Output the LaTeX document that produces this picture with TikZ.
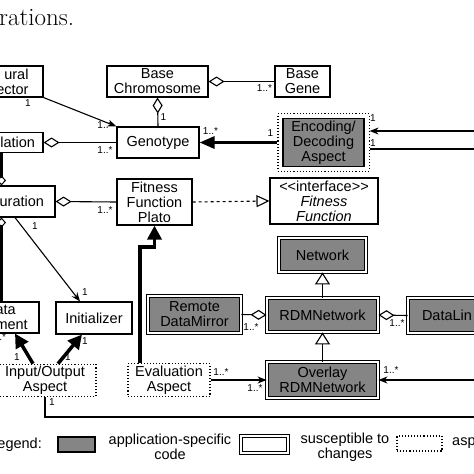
\documentclass[tikz,border=0pt]{standalone}
\usepackage{fontspec}
\newfontfamily\umlfont{Liberation Sans}
\usetikzlibrary{arrows.meta, fit}
\definecolor{appgray}{gray}{0.52}

\begin{document}
\begin{tikzpicture}[
        x=1pt, y=-1pt,
        cls/.style={draw, line width=1.1pt, fill=white, align=center, inner sep=2pt,
            font=\umlfont\fontsize{14.5}{15}\selectfont},
        appcls/.style={cls, fill=appgray},
        changecls/.style={appcls, double=white, double distance=1.6pt, line width=0.9pt},
        aspect/.style={draw, dotted, line width=1.1pt, align=center, inner sep=2pt,
            font=\umlfont\fontsize{14.5}{15}\selectfont},
        plain/.style={font=\umlfont\fontsize{14.5}{15}\selectfont, align=center, inner sep=0pt},
        mult/.style={font=\umlfont\fontsize{10}{10}\selectfont, inner sep=0pt},
        assoc/.style={line width=1.1pt},
        agg/.style={assoc, {Diamond[open, length=16pt, width=10pt]}-},
        nav/.style={assoc, -{Stealth[length=9pt, width=7pt]}},
        gen/.style={assoc, -{Triangle[open, length=12pt, width=15pt]}},
        fat/.style={line width=3.5pt, -{Triangle[length=14pt, width=14pt]}},
    ]
        \useasboundingbox (0,0) rectangle (474,474);

        % Caption tail
        \node[anchor=base west, inner sep=0pt, font=\fontsize{25}{26}\selectfont] (captail) at (-1,25) {rations.};

        % Classes on the left (cut by the frame)
        \node[cls, minimum width=103pt, minimum height=31pt, text width=74pt, align=right] (conn) at (-8.5,81.5) {ural\\ector};
        \node[cls, minimum width=103pt, minimum height=20pt, text width=87pt, align=right] (popn) at (-8.5,142.5) {lation};
        \node[cls, minimum width=115pt, minimum height=31pt, text width=93pt, align=right] (config) at (-2.5,201.5) {uration};
        \node[cls, minimum width=54pt, minimum height=31pt, text width=33pt, align=left] (dataelem) at (12,317.5) {ata\\ment};
        \node[cls, minimum width=76pt, minimum height=32pt] (init) at (94,318) {Initializer};

        % Genotype part
        \node[cls, minimum width=101pt, minimum height=31pt] (basechr) at (157.5,81.5) {Base\\Chromosome};
        \node[cls, minimum width=55pt, minimum height=31pt] (basegene) at (302.5,81.5) {Base\\Gene};
        \node[cls, minimum width=82pt, minimum height=31pt] (geno) at (158,142.5) {Genotype};
        \node[appcls, minimum width=81pt, minimum height=47pt] (encod) at (323.5,142.5) {Encoding/\\Decoding\\Aspect};
        \node[aspect, fit=(encod), inner sep=4.5pt] (encdot) {};

        % Fitness
        \node[cls, minimum width=75pt, minimum height=46pt] (plato) at (154.5,202) {Fitness\\Function\\Plato};
        \node[cls, minimum width=108pt, minimum height=46pt] (iface) at (324,201) {<<interface>>\\\itshape Fitness\\\itshape Function};

        % Network part
        \node[changecls, minimum width=87pt, minimum height=34pt] (network) at (322.5,255) {Network};
        \node[changecls, minimum width=111pt, minimum height=34pt] (rdmnet) at (322.5,315) {RDMNetwork};
        \node[changecls, minimum width=93pt, minimum height=37pt] (remote) at (194.5,314.5) {Remote\\DataMirror};
        \node[changecls, minimum width=112pt, minimum height=35pt, text width=84pt, align=left] (datalin) at (464,315.5) {DataLin};
        \node[changecls, minimum width=111pt, minimum height=36pt] (overlay) at (322.5,380) {Overlay\\RDMNetwork};

        % Aspects
        \node[aspect, minimum width=82pt, minimum height=32pt] (evalasp) at (169,380) {Evaluation\\Aspect};
        \node[aspect, minimum width=102pt, minimum height=31pt] (ioasp) at (45,380.5) {Input/Output\\Aspect};

        % Free ends at the frame
        \coordinate (rail) at (1.5,0);
        \coordinate (encin) at (480,131);
        \coordinate (encout) at (480,149);
        \coordinate (ovin) at (480,380);
        \coordinate (ioout) at (480,417);

        % Connectors
        \draw[agg] (basechr.east) -- (basegene.west);
        \draw[agg] (basechr.south) -- (geno.north);
        \draw[nav] (conn.south east) -- (geno.north west);
        \draw[agg] (popn.east) -- (geno.west);
        \draw[line width=2.4pt, {Diamond[open, length=10pt, width=9pt, line width=1pt]}-] (config.north -| rail) -- (popn.south -| rail);
        \draw[agg] (config.east) -- (plato.west);
        \draw[line width=2.4pt, {Diamond[open, length=10pt, width=9pt, line width=1pt]}-] (config.south -| rail) -- (dataelem.north -| rail);
        \draw[nav] ([xshift=17.5pt]config.south) -- ([xshift=-14pt]init.north);
        \draw[assoc, dashed, -{Triangle[open, length=13pt, width=12pt]}] (plato.east) -- (iface.west);
        \draw[line width=3pt, -{Triangle[length=15pt, width=12pt]}] (encdot.west) -- (geno.east);
        \draw[nav] (encin) -- (encin -| encdot.east);
        \draw[assoc] (encout) -- (encout -| encdot.east);
        \draw[gen] (rdmnet.north) -- (network.south);
        \draw[gen] (overlay.north) -- (rdmnet.south);
        \draw[agg] (rdmnet.west) -- (remote.east);
        \draw[agg] (rdmnet.east) -- (datalin.west);
        \draw[nav] (evalasp.east) -- (overlay.west);
        \draw[nav] (ovin) -- (overlay.east);
        \draw[fat] ([xshift=-29pt]evalasp.north) -- ++(0,-116) -| (plato.south);
        \draw[fat] ([xshift=-12pt]ioasp.north) -- ([xshift=3pt]dataelem.south);
        \draw[fat] ([xshift=13pt]ioasp.north) -- ([xshift=-12pt]init.south);
        \draw[assoc] (ioasp.south) |- (ioout);

        % Multiplicities
        \node[mult] (m1) at (28,103) {1};
        \node[mult] (m2) at (105,125) {1..*};
        \node[mult] (m3) at (163.5,117.5) {1};
        \node[mult] (m4) at (264.5,88) {1..*};
        \node[mult] (m5) at (105,150) {1..*};
        \node[mult] (m6) at (210.5,131.5) {1..*};
        \node[mult] (m7) at (270.5,133) {1};
        \node[mult] (m8) at (373,118) {1};
        \node[mult] (m9) at (373,143) {1};
        \node[mult] (m10) at (105,210) {1..*};
        \node[mult] (m11) at (35,226) {1};
        \node[mult] (m12) at (85,292) {1};
        \node[mult] (m13) at (251,327) {1..*};
        \node[mult] (m14) at (397,323) {1..*};
        \node[mult] (m15) at (221,372) {1..*};
        \node[mult] (m16) at (255,388) {1..*};
        \node[mult] (m17) at (391,370) {1..*};
        \node[mult] (m18) at (-1.5,337) {1..*};
        \node[mult] (m19) at (17,357) {1};
        \node[mult] (m20) at (68,357) {1};
        \node[mult] (m21) at (85,341) {1};
        \node[mult] (m22) at (52,402) {1};

        % Legend
        \node[plain, anchor=east] (legtitle) at (42,445) {egend:};
        \node[appcls, minimum width=37pt, minimum height=15pt] (legapp) at (76.5,444.5) {};
        \node[plain] (legapptxt) at (170,447) {application-specific\\code};
        \node[changecls, fill=white, minimum width=47pt, minimum height=17pt] (legchg) at (264.5,444.5) {};
        \node[plain] (legchgtxt) at (345,447) {susceptible to\\changes};
        \node[aspect, minimum width=45pt, minimum height=15pt] (legasp) at (419.5,443.5) {};
        \node[plain, anchor=west] (legasptxt) at (452,443) {asp};
    \end{tikzpicture}
\end{document}
